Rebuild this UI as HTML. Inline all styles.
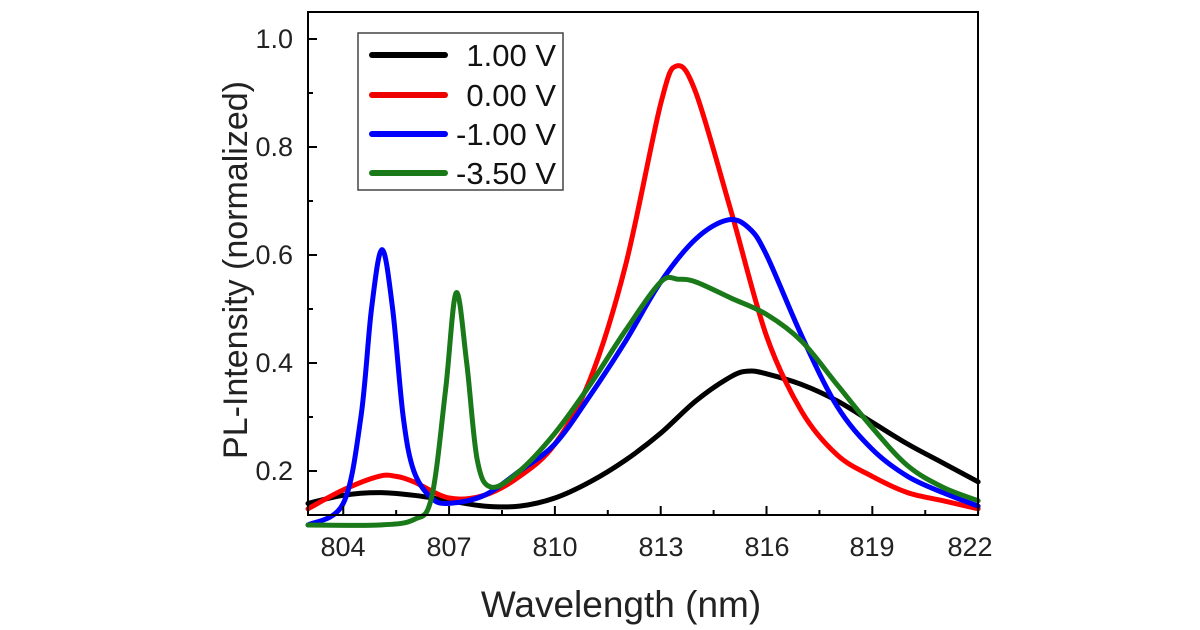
<!DOCTYPE html>
<html><head><meta charset="utf-8"><style>
html,body{margin:0;padding:0;background:#fff;}
svg{display:block;font-family:"Liberation Sans",Arial,sans-serif;}
</style></head><body>
<svg id="s" width="1200" height="630" viewBox="0 0 1200 630">
<rect x="0" y="0" width="1200" height="630" fill="#fff"/>
<g id="curves" fill="none" stroke-width="5" stroke-linejoin="round" stroke-linecap="round"></g>
<rect x="308" y="12" width="670" height="503" fill="none" stroke="#000" stroke-width="2"/>
<g id="ticks" stroke="#000" stroke-width="2"></g>
<g font-size="27" fill="#222" text-anchor="middle">
<text x="343" y="556">804</text><text x="449" y="556">807</text><text x="555" y="556">810</text>
<text x="661" y="556">813</text><text x="767" y="556">816</text><text x="872" y="556">819</text><text x="970" y="556">822</text>
</g>
<g font-size="27" fill="#222" text-anchor="end">
<text x="293" y="48">1.0</text><text x="293" y="156">0.8</text><text x="293" y="264">0.6</text>
<text x="293" y="372">0.4</text><text x="293" y="480">0.2</text>
</g>
<text x="621" y="617" font-size="37" text-anchor="middle" fill="#222">Wavelength (nm)</text>
<text transform="translate(247,270) rotate(-90)" font-size="34" text-anchor="middle" fill="#222">PL-Intensity (normalized)</text>
<rect x="358" y="33" width="205" height="157" fill="#fff" stroke="#444" stroke-width="1.5"/>
<g stroke-width="6" stroke-linecap="round">
<line x1="372" y1="55" x2="445" y2="55" stroke="#000"/>
<line x1="372" y1="95" x2="445" y2="95" stroke="#e00"/>
<line x1="372" y1="134" x2="445" y2="134" stroke="#00f"/>
<line x1="372" y1="173" x2="445" y2="173" stroke="#1a7a1a"/>
</g>
<g font-size="31" fill="#111" text-anchor="end">
<text x="556" y="66">1.00 V</text><text x="556" y="106">0.00 V</text>
<text x="556" y="145">-1.00 V</text><text x="556" y="184">-3.50 V</text>
</g>
</svg>
<script>
var X=function(l){return 308+(l-803)*35.27;},Y=function(v){return 39+(1-v)*540;};
var data={
"#000":[[803,0.14],[804,0.155],[805,0.16],[806,0.155],[807,0.145],[808,0.135],[809,0.135],[810,0.15],[811,0.18],[812,0.22],[813,0.27],[814,0.33],[815,0.375],[815.5,0.385],[816,0.38],[817,0.36],[818,0.33],[819,0.29],[820,0.25],[821,0.215],[822,0.18]],
"#f00":[[803,0.13],[804,0.165],[805,0.19],[805.5,0.19],[806,0.18],[807,0.15],[808,0.155],[809,0.19],[810,0.25],[811,0.37],[812,0.58],[813,0.88],[813.45,0.95],[814,0.9],[815,0.68],[816,0.45],[817,0.31],[818,0.23],[819,0.19],[820,0.16],[821,0.145],[822,0.13]],
"#00f":[[803,0.1],[804,0.14],[804.5,0.3],[804.8,0.5],[805.1,0.61],[805.4,0.5],[805.7,0.3],[806,0.2],[806.5,0.15],[807,0.14],[808,0.155],[809,0.2],[810,0.25],[811,0.34],[812,0.44],[813,0.55],[814,0.63],[814.9,0.665],[815.5,0.65],[816,0.6],[817,0.45],[818,0.32],[819,0.24],[820,0.19],[821,0.16],[822,0.135]],
"#1a7a1a":[[803,0.1],[805,0.1],[806,0.11],[806.5,0.15],[806.9,0.35],[807.2,0.53],[807.5,0.4],[807.8,0.22],[808.2,0.17],[809,0.2],[810,0.27],[811,0.36],[812,0.46],[813,0.55],[813.5,0.555],[814,0.55],[815,0.52],[816,0.49],[817,0.44],[818,0.36],[819,0.28],[820,0.21],[821,0.17],[822,0.145]]};
var order=["#000","#f00","#00f","#1a7a1a"],g=document.getElementById("curves"),ns="http://www.w3.org/2000/svg";
order.forEach(function(c){var p=data[c].map(function(a){return [X(a[0]),Y(a[1])];});
var d="M"+p[0][0]+","+p[0][1];
for(var i=0;i<p.length-1;i++){var p0=p[i-1]||p[i],p1=p[i],p2=p[i+1],p3=p[i+2]||p2;
d+=" C"+(p1[0]+(p2[0]-p0[0])/6)+","+(p1[1]+(p2[1]-p0[1])/6)+" "+(p2[0]-(p3[0]-p1[0])/6)+","+(p2[1]-(p3[1]-p1[1])/6)+" "+p2[0]+","+p2[1];}
var e=document.createElementNS(ns,"path");e.setAttribute("d",d);e.setAttribute("stroke",c);g.appendChild(e);});
var t=document.getElementById("ticks"),s="";
for(var l=804;l<=822;l+=1.5){var x=X(l),L=((l-804)%3==0)?9:5;s+="M"+x+",515v-"+L;}
for(var v=0.2;v<=1.001;v+=0.1){var y=Y(v),L=(Math.round(v*10)%2==0)?9:5;s+="M308,"+y+"h"+L;}
var e=document.createElementNS(ns,"path");e.setAttribute("d",s);t.appendChild(e);
</script>
</body></html>
